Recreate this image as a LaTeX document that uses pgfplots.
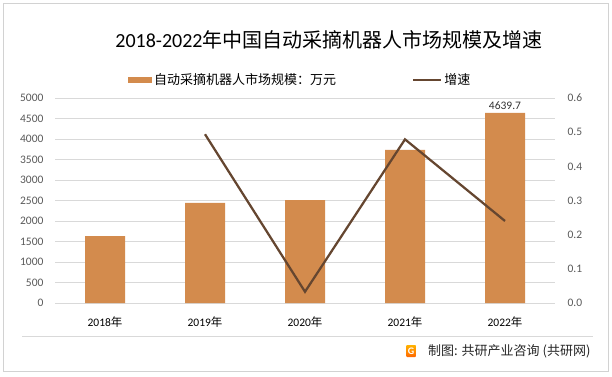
\documentclass[border=0pt]{standalone}
\usepackage{pgfplots}
\pgfplotsset{compat=1.18}
\usepackage{fontspec}
\setmainfont{Carlito}
\newfontfamily\cjk{Noto Sans CJK SC}
\definecolor{barcol}{HTML}{D38B4D}
\definecolor{linecol}{HTML}{654630}
\definecolor{tickcol}{HTML}{595959}
\definecolor{gridcol}{HTML}{D9D9D9}
\begin{document}
\begin{tikzpicture}[x=1pt,y=1pt]
\path[use as bounding box] (0,0) rectangle (612,376);
\draw[gray!35, line width=0.8pt] (3,5) rectangle (608,373);
% title
\node[font=\fontsize{20}{24}\selectfont, text=black, inner sep=0pt] at (329,336) {2018-2022{\cjk 年中国自动采摘机器人市场规模及增速}};
% footer separator
\draw[gray!30, line width=0.8pt] (22,40) -- (593,40);
\node[top color=orange!60!yellow, bottom color=orange!80!red, text=white, font=\bfseries\fontsize{10}{10}\selectfont, inner sep=0.5pt, minimum width=10pt, minimum height=12pt, rounded corners=1pt] at (411,25) {G};
\node[anchor=west, font=\cjk\fontsize{13}{15}\selectfont, text=black!85, inner sep=0pt] at (428,25) {制图: 共研产业咨询 (共研网)};
\begin{axis}[
  at={(55pt,73pt)}, anchor=south west,
  scale only axis, width=500pt, height=205pt,
  xmin=-0.5, xmax=4.5, ymin=0, ymax=5000,
  ytick={0,500,...,5000},
  xtick={0,1,2,3,4},
  xticklabels={2018{\cjk 年},2019{\cjk 年},2020{\cjk 年},2021{\cjk 年},2022{\cjk 年}},
  axis line style={draw=none},
  major tick length=0pt,
  ymajorgrids, grid style={gridcol, line width=0.8pt},
  /pgf/number format/assume math mode=true,
  /pgf/number format/1000 sep={},
  tick label style={font=\fontsize{11.5}{13}\selectfont, text=tickcol},
  xticklabel style={text=black, yshift=-10pt},
  yticklabel style={xshift=-8pt},
  ybar, bar width=40pt, bar shift=0pt,
  legend columns=2,
  legend style={at={(rel axis cs:0.146,1.088)}, anchor=west, draw=none, fill=none, inner sep=0pt,
    font=\cjk\fontsize{13}{15}\selectfont, text=black,
    /tikz/every even column/.append style={column sep=74pt}},
  legend cell align=left,
]
\addplot[draw=none, fill=barcol,
  legend image code/.code={\fill[barcol] (0pt,-3pt) rectangle (24pt,3pt);}]
  coordinates {(0,1630) (1,2440) (2,2510) (3,3732) (4,4639.7)};
\addlegendentry{自动采摘机器人市场规模：万元}
\addlegendimage{legend image code/.code={\draw[linecol, line width=2.25pt] (0pt,0pt) -- (28pt,0pt);}}
\addlegendentry{增速}
\addplot[draw=none, fill=barcol, nodes near coords, forget plot,
  every node near coord/.append style={font=\fontsize{11.5}{13}\selectfont, text=black!80, yshift=0pt}]
  coordinates {(4,4639.7)};
\end{axis}
\begin{axis}[
  at={(55pt,73pt)}, anchor=south west,
  scale only axis, width=500pt, height=205pt,
  xmin=-0.5, xmax=4.5, ymin=0, ymax=0.6,
  ytick={0,0.1,...,0.6},
  axis y line*=right, axis x line=none,
  axis line style={draw=none},
  major tick length=0pt,
  /pgf/number format/assume math mode=true,
  /pgf/number format/.cd, fixed, fixed zerofill, precision=1, /pgfplots/.cd,
  tick label style={font=\fontsize{11.5}{13}\selectfont, text=tickcol},
  yticklabel style={xshift=9pt},
]
\addplot[linecol, line width=2.25pt, mark=none] coordinates {(1,0.494) (2,0.033) (3,0.479) (4,0.240)};
\end{axis}
\end{tikzpicture}
\end{document}
